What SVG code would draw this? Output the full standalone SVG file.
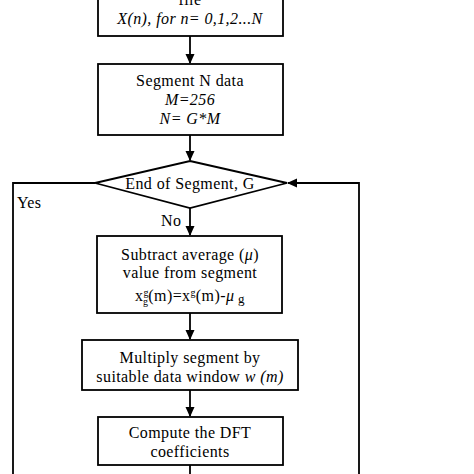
<svg xmlns="http://www.w3.org/2000/svg" width="474" height="474" viewBox="0 0 474 474">
<style>
.box{fill:#fff;stroke:#000;stroke-width:1.8}
.ln{fill:none;stroke:#000;stroke-width:1.8}
text{font-family:"Liberation Serif","Times New Roman",serif;font-size:16px;letter-spacing:0.4px;fill:#000;text-anchor:middle}
.it{font-style:italic}
.lbl{text-anchor:start}
</style>
<defs>
<marker id="ah" markerWidth="10" markerHeight="10" refX="9" refY="5" orient="auto" markerUnits="userSpaceOnUse">
<path d="M0,0.5 L10,5 L0,9.5 Z" fill="#000"/>
</marker>
</defs>
<g id="connectors">
<line class="ln" x1="190" y1="36" x2="190" y2="63" marker-end="url(#ah)"/>
<line class="ln" x1="190" y1="135" x2="190" y2="160" marker-end="url(#ah)"/>
<line class="ln" x1="190" y1="208" x2="190" y2="235" marker-end="url(#ah)"/>
<line class="ln" x1="190" y1="313" x2="190" y2="339" marker-end="url(#ah)"/>
<line class="ln" x1="190" y1="390" x2="190" y2="416" marker-end="url(#ah)"/>
<line class="ln" x1="190" y1="465" x2="190" y2="474"/>
<polyline class="ln" points="95,183 13,183 13,474"/>
<polyline class="ln" points="359,474 359,183 288,183" marker-end="url(#ah)"/>
<text class="lbl" x="17" y="208">Yes</text>
<text class="lbl" x="161" y="226">No</text>
</g>
<g id="node-file">
<rect class="box" x="98" y="-10" width="185" height="46"/>
<text x="190" y="5">file</text>
<text class="it" x="190" y="24">X(n), for n= 0,1,2...N</text>
</g>
<g id="node-segment">
<rect class="box" x="98" y="64" width="185" height="71"/>
<text x="190" y="86">Segment N data</text>
<text class="it" x="190" y="105">M=256</text>
<text class="it" x="190" y="124">N= G*M</text>
</g>
<g id="node-decision">
<polygon class="box" points="190,161 287,183 190,208 95,183"/>
<text x="190" y="189">End of Segment, G</text>
</g>
<g id="node-subtract">
<rect class="box" x="97" y="236" width="185" height="77"/>
<text x="190" y="260">Subtract average (<tspan class="it">μ</tspan>)</text>
<text x="190" y="278">value from segment</text>
<text x="190" y="301">x<tspan font-size="10" dy="-5">g</tspan><tspan font-size="10" dx="-6" dy="9">g</tspan><tspan dy="-4">(m)=x</tspan><tspan font-size="10" dy="-5">g</tspan><tspan dy="5">(m)-</tspan><tspan class="it">μ</tspan><tspan font-size="13" dy="2"> g</tspan></text>
</g>
<g id="node-multiply">
<rect class="box" x="82" y="340" width="216" height="50"/>
<text x="190" y="363">Multiply segment by</text>
<text x="190" y="382">suitable data window <tspan class="it">w (m)</tspan></text>
</g>
<g id="node-dft">
<rect class="box" x="98" y="417" width="185" height="48"/>
<text x="190" y="438">Compute the DFT</text>
<text x="190" y="457">coefficients</text>
</g>
</svg>
